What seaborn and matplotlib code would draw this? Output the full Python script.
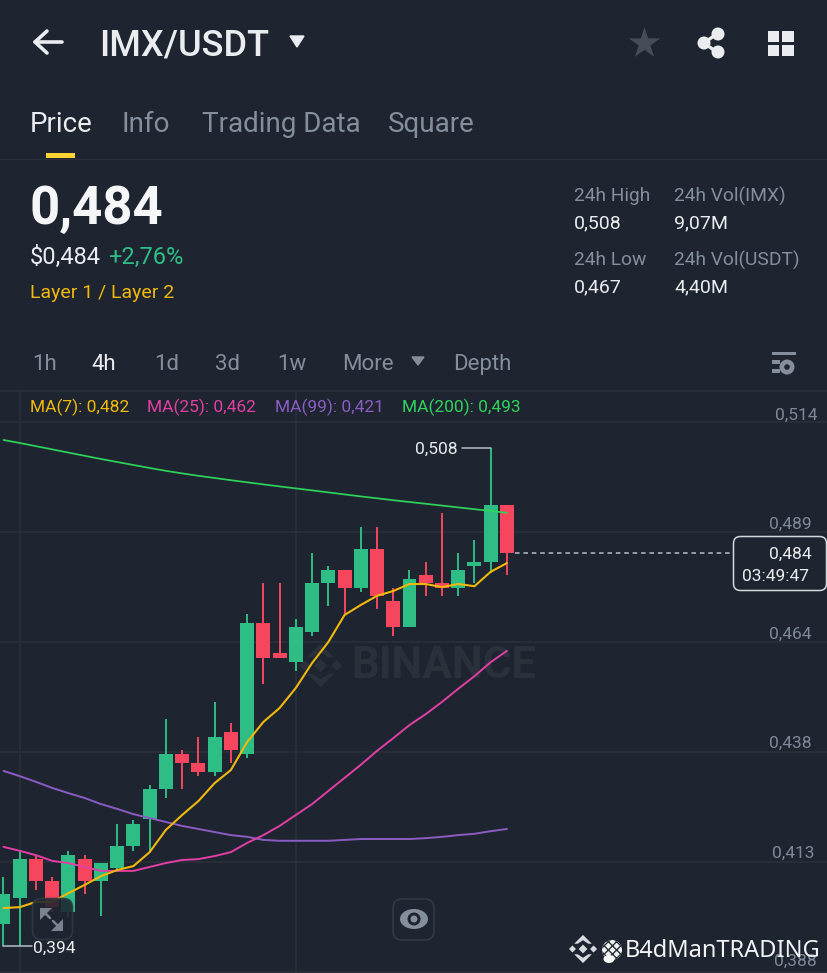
import numpy as np
import pandas as pd
import seaborn as sns
import matplotlib
matplotlib.use("Agg")
import matplotlib.pyplot as plt
from matplotlib.patches import FancyBboxPatch, Polygon, Circle, Ellipse, Rectangle

BG = "#1e2530"
GRID = "#2b313b"
UP = "#2ebd85"
DOWN = "#f6465d"
YEL = "#f0b90b"
PINK = "#e23fa5"
PURP = "#8b5cc2"
LIME = "#2fd35c"
GRAY = "#848e9c"
WHITE = "#eaecef"

opens = [.3990,.4050,.4139,.4089,.4018,.4139,.4089,.4119,.4169,.4231,.4300,.4380,.4359,.4339,.4430,.4380,
         .4680,.4611,.4590,.4659,.4771,.4801,.4760,.4849,.4730,.4671,.4790,.4771,.4760,.4810,.4819,.4950]
highs = [.4098,.4155,.4146,.4098,.4158,.4148,.4130,.4219,.4229,.4309,.4460,.4389,.4419,.4499,.4451,.4700,
         .4771,.4771,.4689,.4840,.4810,.4801,.4900,.4900,.4760,.4801,.4819,.4932,.4840,.4870,.5080,.4950]
lows  = [.3940,.3940,.4068,.4018,.4006,.4059,.4009,.4110,.4158,.4155,.4279,.4300,.4329,.4329,.4359,.4371,
         .4540,.4600,.4570,.4650,.4719,.4700,.4751,.4712,.4650,.4671,.4742,.4742,.4742,.4771,.4794,.4790]
closes= [.4059,.4139,.4089,.4029,.4148,.4089,.4130,.4169,.4219,.4300,.4380,.4359,.4339,.4419,.4389,.4680,
         .4600,.4600,.4671,.4771,.4801,.4760,.4849,.4742,.4671,.4780,.4771,.4760,.4801,.4819,.4950,.4840]
ma7   = [.4027,.4029,.4041,.4041,.4061,.4080,.4100,.4114,.4123,.4155,.4206,.4240,.4272,.4313,.4343,.4407,
         .4453,.4485,.4531,.4588,.4636,.4698,.4721,.4742,.4753,.4769,.4769,.4762,.4769,.4764,.4797,.4817]
ma25  = [.4167,.4158,.4148,.4135,.4130,.4121,.4112,.4112,.4112,.4121,.4130,.4137,.4139,.4146,.4155,.4176,
         .4194,.4215,.4240,.4265,.4295,.4325,.4355,.4387,.4416,.4446,.4471,.4499,.4529,.4558,.4590,.4616]
ma99  = [.4341,.4329,.4316,.4302,.4290,.4279,.4265,.4254,.4242,.4233,.4224,.4215,.4208,.4201,.4194,.4190,
         .4183,.4181,.4181,.4181,.4181,.4183,.4185,.4185,.4185,.4185,.4187,.4190,.4194,.4197,.4203,.4208]
ma200 = [.50988,.50919,.50846,.50773,.50699,.50626,.50553,.50484,.50415,.50347,.50282,.50223,.50168,.50118,.50067,.50019,
         .49971,.49925,.49879,.49834,.49788,.49742,.49696,.49653,.49609,.49568,.49527,.49486,.49444,.49403,.49362,.49321]

price_ticks = [0.5140, 0.4888, 0.4636, 0.4384, 0.4132, 0.3880]
price_labels = ["0,514", "0,489", "0,464", "0,438", "0,413", "0,388"]
time_ticks = [1, 18]
ma_labels = ["MA(7): 0,482", "MA(25): 0,462", "MA(99): 0,421", "MA(200): 0,493"]
tabs = ["Price", "Info", "Trading Data", "Square"]
intervals = ["1h", "4h", "1d", "3d", "1w", "More", "Depth"]

df = pd.DataFrame(dict(idx=np.arange(len(opens)), o=opens, h=highs, l=lows, c=closes,
                       ma7=ma7, ma25=ma25, ma99=ma99, ma200=ma200))

sns.set_theme(style="dark", rc={"axes.facecolor": BG, "figure.facecolor": BG})
plt.rcParams["font.family"] = ["Roboto", "DejaVu Sans"]

W, H = 828, 973
fig = plt.figure(figsize=(W / 100, H / 100), dpi=100, facecolor=BG)

def overlay(z):
    a = fig.add_axes([0, 0, 1, 1], zorder=z)
    a.set_xlim(0, W); a.set_ylim(H, 0); a.axis("off")
    a.patch.set_alpha(0)
    return a

back = overlay(0)
front = overlay(3)

# chart axes
top_px, bot_px = 390, 973
ax = fig.add_axes([0, 1 - bot_px / H, 1, (bot_px - top_px) / H], zorder=1)
ax.patch.set_alpha(0)
px_per_x = 16.24
ax.set_xlim(-3.5 / px_per_x, (W - 3.5) / px_per_x)
scale = 0.000229
ax.set_ylim(0.514 - (bot_px - 422) * scale, 0.514 + (422 - top_px) * scale)
for s in ax.spines.values():
    s.set_visible(False)
ax.set_xticks(time_ticks); ax.set_yticks(price_ticks)
ax.tick_params(length=0, labelleft=False, labelbottom=False)
ax.grid(True, color=GRID, lw=1.1)
ax.set_axisbelow(True)

colors = [UP if c >= o else DOWN for o, c in zip(df.o, df.c)]
ax.vlines(df.idx, df.l, df.h, colors=colors, lw=1.4, zorder=2)
ax.bar(df.idx, (df.c - df.o).abs(), bottom=df[["o", "c"]].min(axis=1), width=0.86,
       color=colors, linewidth=0, zorder=3)
for col, colr, w in [("ma200", LIME, 1.25), ("ma99", PURP, 1.4), ("ma25", PINK, 1.4), ("ma7", YEL, 1.5)]:
    sns.lineplot(data=df, x="idx", y=col, ax=ax, color=colr, lw=w, estimator=None, zorder=4)
ax.set_xlabel(""); ax.set_ylabel("")

def T(x, y, s, size, color=WHITE, ha="left", weight="normal", a=None, **kw):
    return (a or front).text(x, y + 0.1 * size, s, fontsize=size, color=color, ha=ha, va="center",
                             fontweight=weight, **kw)

# header
front.plot([35, 62], [42, 42], color=WHITE, lw=2.6, solid_capstyle="round")
front.plot([47, 35, 47], [31, 42, 53], color=WHITE, lw=2.6, solid_capstyle="round", solid_joinstyle="round")
T(99, 43, "IMX/USDT", 26, weight="medium")
front.add_patch(Polygon([[290, 36], [304, 36], [297, 47]], color=WHITE))
front.scatter([644], [42.5], marker="*", s=560, color="#474d57", linewidths=0)
front.plot([718, 704, 718], [33, 43, 53], color=WHITE, lw=2.4)
for (x, y, r) in [(718, 34, 6.5), (704, 43, 6.5), (718, 52, 6.5)]:
    front.add_patch(Circle((x, y), r, color=WHITE, lw=0))
for x in (768, 782.5):
    for y in (30.5, 44.5):
        front.add_patch(Rectangle((x, y), 11.5, 11, color=WHITE, lw=0))

tab_x = [30, 122, 202, 388]
for i, (s, x) in enumerate(zip(tabs, tab_x)):
    T(x, 123, s, 20, color=WHITE if i == 0 else GRAY)
front.add_patch(Rectangle((46, 153), 29, 5, color="#fcd535", lw=0))
front.plot([0, W], [158.5, 158.5], color=GRID, lw=0.9)

# price block
T(30, 206, "0,484", 38, weight="bold", color="#f5f6f7")
T(30, 256, "$0,484", 17, color=WHITE)
T(108, 256, "+2,76%", 17, color=UP)
T(30, 292, "Layer 1 / Layer 2", 14, color=YEL)
for x, a1, b1, a2, b2 in [(574, "24h High", "0,508", "24h Low", "0,467"),
                          (674, "24h Vol(IMX)", "9,07M", "24h Vol(USDT)", "4,40M")]:
    T(x, 195, a1, 13.8, color=GRAY); T(x, 222, b1, 14)
    T(x, 259, a2, 13.8, color=GRAY); T(x, 286, b2, 14)

# interval row
int_x = [32, 91, 154, 215, 277, 342, 453]
for s, x in zip(intervals, int_x):
    T(x, 363, s, 16, color=WHITE if s == "4h" else GRAY)
front.add_patch(Polygon([[412, 357], [424, 357], [418, 365]], color=GRAY))
# settings icon
front.add_patch(Rectangle((772, 352), 24, 3, color=GRAY, lw=0))
front.add_patch(Rectangle((772, 360), 8, 4, color=GRAY, lw=0))
front.add_patch(Rectangle((772, 369), 8, 4, color=GRAY, lw=0))
front.add_patch(Circle((787, 367), 7.5, color=GRAY, lw=0))
front.add_patch(Circle((787, 367), 2.8, color=BG, lw=0))

# chart top rule and MA legend
front.plot([0, W], [390.5, 390.5], color=GRID, lw=1.1)
for s, x, c in zip(ma_labels, [30, 147, 275, 402], [YEL, PINK, PURP, LIME]):
    T(x, 406, s, 12.5, color=c)

# axis labels
lab_x = [818, 812, 812, 812, 815, 817]
lab_y = [414, 523, 633, 742, 852, 960]
for s, x, y in zip(price_labels, lab_x, lab_y):
    T(x, y, s, 12.5, color=GRAY, ha="right", alpha=0.95)

# watermark under candles
T(351, 663, "BINANCE", 31.5, color="#2a313b", weight="bold", a=back)
def diamond(a, cx, cy, r, c):
    a.add_patch(Polygon([[cx - r, cy], [cx, cy - r], [cx + r, cy], [cx, cy + r]], color=c, lw=0))
def logo(a, cx, cy, u, c):
    diamond(a, cx, cy, u, c)
    diamond(a, cx - 2.4 * u, cy, 0.8 * u, c)
    diamond(a, cx + 2.4 * u, cy, 0.8 * u, c)
    for sgn in (-1, 1):
        a.add_patch(Polygon([[cx - 2 * u, cy + sgn * 2 * u * 0.6], [cx, cy + sgn * 3.2 * u],
                             [cx + 2 * u, cy + sgn * 2 * u * 0.6], [cx + 1.2 * u, cy + sgn * 0.4 * u + sgn * u * 0.8],
                             [cx, cy + sgn * 2.0 * u], [cx - 1.2 * u, cy + sgn * 0.4 * u + sgn * u * 0.8]],
                            color=c, lw=0))
logo(back, 320.5, 665.5, 6.8, "#2a313b")

# last price guide and box
front.plot([515, 733], [553, 553], color="#b7bdc6", lw=1.1, ls=(0, (3, 2.5)))
front.add_patch(FancyBboxPatch((733.5, 536.5), 93, 54, boxstyle="round,pad=0,rounding_size=7",
                               fc=BG, ec="#d5d8dc", lw=1.1))
T(812, 553, "0,484", 12.5, ha="right")
T(809, 575, "03:49:47", 12.5, ha="right")

# high / low labels
T(415, 448.5, "0,508", 12.5)
front.plot([462, 491], [448, 448], color="#b7bdc6", lw=1.1)
T(33, 947.5, "0,394", 12.5)
front.plot([3, 32], [946, 946], color="#b7bdc6", lw=1.1)

# buttons
front.add_patch(FancyBboxPatch((32.5, 898.5), 40, 41, boxstyle="round,pad=0,rounding_size=9",
                               fc=BG, ec="#333a45", lw=1.2, alpha=0.88))
front.add_patch(Polygon([[40, 908], [52, 908], [40, 920]], color="#7b8390", lw=0))
front.add_patch(Polygon([[63, 931], [51, 931], [63, 919]], color="#7b8390", lw=0))
front.plot([44, 50], [912, 918], color="#7b8390", lw=1.8)
front.plot([53, 59], [921, 927], color="#7b8390", lw=1.8)
front.add_patch(FancyBboxPatch((393, 899), 41, 41, boxstyle="round,pad=0,rounding_size=9",
                               fc=BG, ec="#333a45", lw=1.2))
front.add_patch(Ellipse((414, 919), 28, 20, color=GRAY, lw=0))
front.add_patch(Circle((414, 919), 6.5, color=BG, lw=0))
front.add_patch(Circle((414, 919), 3.5, color=GRAY, lw=0))

# source mark
logo(front, 583, 949, 4.4, "#d8dbdf")
front.add_patch(Circle((612, 950), 10, fc="#f0f0f0", ec="#2a303a", hatch="xxxx", lw=0))
front.add_patch(Ellipse((609, 959), 11, 8, color="#f8f8f8", lw=0))
T(625, 949, "B4dManTRADING", 17, color="#f2f3f4", family="Noto Sans")

fig.savefig("out.png", dpi=100, facecolor=BG)
